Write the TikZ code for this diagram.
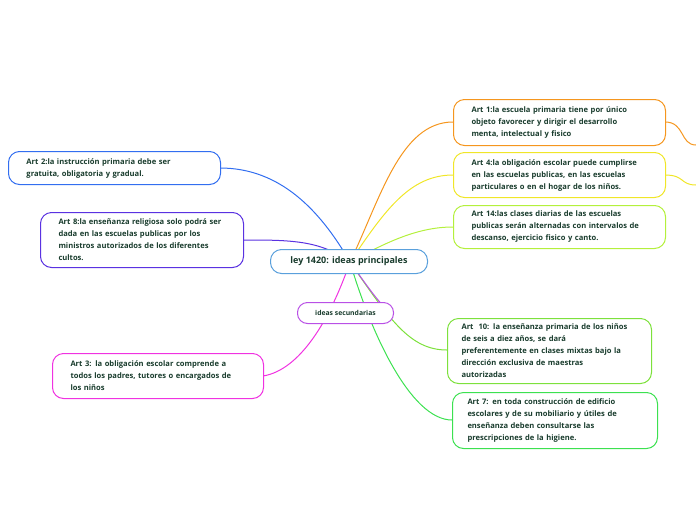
\documentclass[tikz,border=0pt]{standalone}
\usepackage{fontspec}
\setmainfont{Open Sans}
\begin{document}
\begin{tikzpicture}[x=1pt,y=-1pt,
  box/.style 2 args={draw,line width=1pt,rounded corners=11pt,minimum height=#1,text width=#2,text=txt,font=\fontsize{7.6}{12}\selectfont\bfseries,align=left,anchor=north west,inner xsep=18pt,inner ysep=4pt},
  link/.style={line width=1pt}]
\definecolor{txt}{RGB}{25,60,45}
\definecolor{cblue}{RGB}{90,160,220}
\definecolor{cpurp}{RGB}{185,80,230}
\definecolor{corange}{RGB}{245,150,30}
\definecolor{cyellow}{RGB}{240,230,40}
\definecolor{clime}{RGB}{180,240,60}
\definecolor{cgreen}{RGB}{125,225,60}
\definecolor{cgreen2}{RGB}{60,225,80}
\definecolor{cblue2}{RGB}{50,110,240}
\definecolor{cindigo}{RGB}{90,50,225}
\definecolor{cmag}{RGB}{240,50,225}
\useasboundingbox (0,0) rectangle (696,520);
\coordinate (o) at (350,262);
\coordinate (e1) at (696,145);
\coordinate (e4) at (696,185);
% connectors
\draw[link,cblue2] (220,168) .. controls (280,168) and (320,210) .. (o);
\draw[link,cindigo] (243,240) .. controls (290,240) and (320,240) .. (o);
\draw[link,cmag] (263,376) .. controls (300,370) and (330,320) .. (o);
\draw[link,corange] (o) .. controls (380,200) and (400,122) .. (453,122);
\draw[link,cyellow] (o) .. controls (385,210) and (410,175) .. (453,175);
\draw[link,clime] (o) .. controls (390,240) and (420,227) .. (453,227);
\draw[link,cgreen] (o) .. controls (390,320) and (410,350) .. (447,350);
\draw[link,cgreen2] (o) .. controls (370,330) and (410,420) .. (452,420);
\draw[link,cpurp] (o) .. controls (370,290) and (385,312) .. (393,312);
\draw[link,corange] (665,122) .. controls (685,122) and (680,145) .. (e1);
\draw[link,cyellow] (665,175) .. controls (685,175) and (680,185) .. (e4);
% nodes
\node[draw=cblue,line width=1pt,rounded corners=11pt,fill=white,font=\fontsize{9}{11}\selectfont\bfseries,text=txt,minimum width=157pt,minimum height=24pt,anchor=north west] (c) at (270,249) {ley 1420: ideas principales};
\node[draw=cpurp,line width=1pt,rounded corners=10pt,fill=white,font=\fontsize{6.8}{8}\selectfont\bfseries,text=txt,minimum width=96pt,minimum height=21pt,anchor=north west] (s) at (297,302) {ideas secundarias};
\node[box={46pt}{176pt},draw=corange,fill=white] (a1) at (453,99) {Art 1:la escuela primaria tiene por único\\objeto favorecer y dirigir el desarrollo\\menta, intelectual y fisico};
\node[box={45pt}{176pt},draw=cyellow,fill=white] (a4) at (453,152) {Art 4:la obligación escolar puede cumplirse\\en las escuelas publicas, en las escuelas\\particulares o en el hogar de los niños.};
\node[box={43pt}{176pt},draw=clime,fill=white] (a14) at (453,205) {Art 14:las clases diarias de las escuelas\\publicas serán alternadas con intervalos de\\descanso, ejercicio fisico y canto.};
\node[box={65pt}{176pt},draw=cgreen,fill=white,inner xsep=14pt] (a10) at (447,318) {Art\ \ 10: la enseñanza primaria de los niños\\de seis a diez años, se dará\\preferentemente en clases mixtas bajo la\\dirección exclusiva de maestras\\autorizadas};
\node[box={56pt}{175pt},draw=cgreen2,fill=white,inner xsep=15pt] (a7) at (452,392) {Art 7: en toda construcción de edificio\\escolares y de su mobiliario y útiles de\\enseñanza deben consultarse las\\prescripciones de la higiene.};
\node[box={33pt}{176pt},draw=cblue2,fill=white] (a2) at (8,151) {Art 2:la instrucción primaria debe ser\\gratuita, obligatoria y gradual.};
\node[box={55pt}{167pt},draw=cindigo,fill=white] (a8) at (40,212) {Art 8:la enseñanza religiosa solo podrá ser\\dada en las escuelas publicas por los\\ministros autorizados de los diferentes\\cultos.};
\node[box={45pt}{175pt},draw=cmag,fill=white] (a3) at (52,353) {Art 3: la obligación escolar comprende a\\todos los padres, tutores o encargados de\\los niños};
\end{tikzpicture}
\end{document}
